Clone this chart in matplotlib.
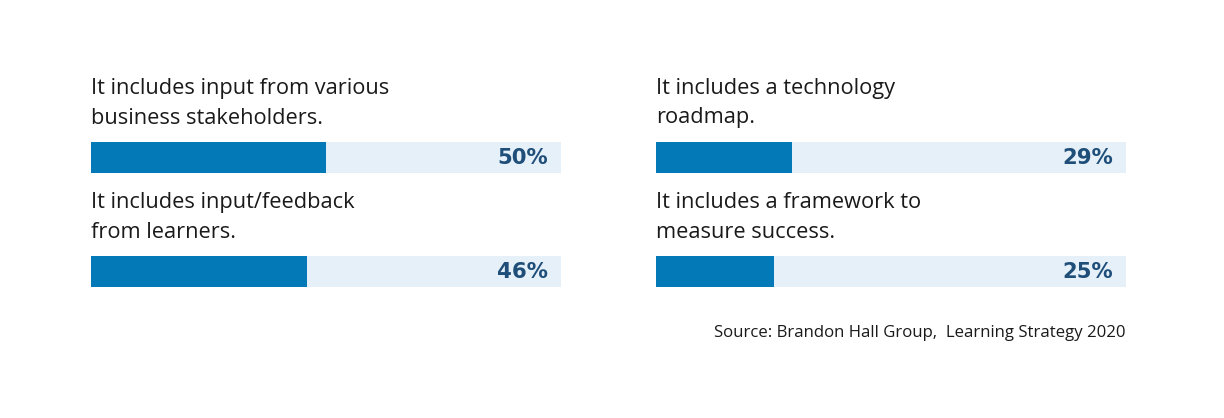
import matplotlib.pyplot as plt

# data
left_labels = ["It includes input from various\nbusiness stakeholders.",
               "It includes input/feedback\nfrom learners."]
left_values = [50, 46]
right_labels = ["It includes a technology\nroadmap.",
                "It includes a framework to\nmeasure success."]
right_values = [29, 25]
source = "Source: Brandon Hall Group,  Learning Strategy 2020"

BAR = "#0479B7"
BG = "#E5F0F8"
PCT = "#1F4E79"

plt.rcParams['font.family'] = ['Open Sans', 'DejaVu Sans']

W, H = 1224, 418
fig = plt.figure(figsize=(W / 100, H / 100), dpi=100)


def panel(x0, labels, values):
    ax = fig.add_axes([x0 / W, 0, 470 / W, 1])
    ax.set_xlim(0, 100)
    ax.set_ylim(H, 0)
    ax.axis("off")
    ys = [157.5 + i * 114 for i in range(len(values))]
    ax.barh(ys, [100] * len(values), height=31, color=BG, left=0)
    ax.barh(ys, values, height=31, color=BAR, left=0)
    for y, lab, v in zip(ys, labels, values):
        # baseline of the last line sits ~34px above the bar centre
        ax.text(0, y - 34, lab, ha="left", va="baseline", fontsize=15.7,
                color="#1a1a1a", linespacing=1.52)
        ax.text(97.3, y + 7, f"{v}%", ha="right", va="baseline", fontsize=15.3,
                fontweight="bold", color=PCT, family="DejaVu Sans")
    return ax


panel(91, left_labels, left_values)
ax = panel(656, right_labels, right_values)
ax.text(100, 337, source, ha="right", va="baseline", fontsize=12.05, color="#1a1a1a")

fig.savefig("out.png", dpi=100)
